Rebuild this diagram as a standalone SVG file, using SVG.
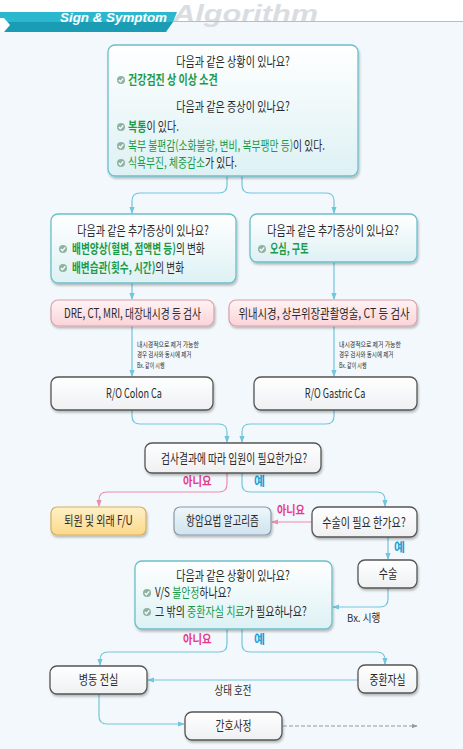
<svg xmlns="http://www.w3.org/2000/svg" width="463" height="749" viewBox="0 0 463 749">
<defs>
<style>
text{font-family:"Noto Sans CJK KR","Liberation Sans",sans-serif;fill:#2a2a2a;font-size:13px}
.c{text-anchor:middle}
.g{fill:#1b9a4a}
.gb{fill:#1b9a4a;font-weight:700}
.sm{font-size:6.9px}
.no{fill:#e8388a;font-weight:700;font-size:12px}
.yes{fill:#1aa0d8;font-weight:700;font-size:12px}
.ln{fill:none;stroke:#72c5dc;stroke-width:1.2}
.pk{fill:none;stroke:#f08ab0;stroke-width:1.2}
.q{fill:url(#gq);stroke:#6cbfcc;stroke-width:1.3}
.w{fill:url(#gw);stroke:#555;stroke-width:1.3}
.p{fill:url(#gp);stroke:#d9a0aa;stroke-width:1.2}
</style>
<linearGradient id="gq" x1="0" y1="0" x2="0" y2="1"><stop offset="0" stop-color="#ffffff"/><stop offset="1" stop-color="#ddf1f4"/></linearGradient>
<linearGradient id="gw" x1="0" y1="0" x2="0" y2="1"><stop offset="0" stop-color="#ffffff"/><stop offset="1" stop-color="#eef0f2"/></linearGradient>
<linearGradient id="gp" x1="0" y1="0" x2="0" y2="1"><stop offset="0" stop-color="#fff3f4"/><stop offset="1" stop-color="#fad3d8"/></linearGradient>
<linearGradient id="gy" x1="0" y1="0" x2="0" y2="1"><stop offset="0" stop-color="#fff0c8"/><stop offset="1" stop-color="#fbd98a"/></linearGradient>
<linearGradient id="gb" x1="0" y1="0" x2="0" y2="1"><stop offset="0" stop-color="#eef6fb"/><stop offset="1" stop-color="#cfe3ef"/></linearGradient>
<filter id="sh" x="-10%" y="-10%" width="120%" height="130%"><feDropShadow dx="1" dy="2" stdDeviation="1.3" flood-color="#000" flood-opacity="0.25"/></filter>
<marker id="ab" viewBox="0 0 8 8" refX="7" refY="4" markerWidth="6" markerHeight="6" orient="auto"><path d="M0,1 L8,4 L0,7 z" fill="#72c5dc"/></marker>
<marker id="ap" viewBox="0 0 8 8" refX="7" refY="4" markerWidth="6" markerHeight="6" orient="auto"><path d="M0,1 L8,4 L0,7 z" fill="#f08ab0"/></marker>
<marker id="ag" viewBox="0 0 8 8" refX="7" refY="4" markerWidth="6" markerHeight="6" orient="auto"><path d="M0,1 L8,4 L0,7 z" fill="#999"/></marker>
<g id="chk"><circle r="4" fill="#8fb3a3"/><path d="M-2.2,0 L-0.6,1.7 L2.3,-1.6" fill="none" stroke="#fff" stroke-width="1.3"/></g>
</defs>
<rect x="0" y="0" width="463" height="749" fill="#ffffff"/>
<rect x="0" y="21" width="463" height="728" fill="#f2f8fb"/>
<g id="header">
<text x="173" y="21.5" textLength="145" lengthAdjust="spacingAndGlyphs" style="font-family:'Liberation Sans',sans-serif;font-size:23.5px;font-weight:700;font-style:italic;fill:#d9dde2">Algorithm</text>
<line x1="172" y1="21.5" x2="463" y2="21.5" stroke="#93ccd8" stroke-width="1.2"/>
<polygon points="0,12 177,12 173,22 0,22" fill="#2bb7ce"/>
<polygon points="0,22 173,22 166,32 0,32" fill="#1a9db4"/>
<polygon points="0,18 4,18 10,25 4,32 0,32" fill="#ffffff"/>
<text x="60" y="22" textLength="107" lengthAdjust="spacingAndGlyphs" style="font-family:'Liberation Sans',sans-serif;font-size:13px;font-weight:700;font-style:italic;fill:#fff">Sign &amp; Symptom</text>
</g>
<g id="connectors">
<path class="ln" d="M227,176 V185 Q227,193 219,193 H140 Q132,193 132,201 V213" marker-end="url(#ab)"/>
<path class="ln" d="M242,176 V185 Q242,193 250,193 H326 Q334,193 334,201 V213" marker-end="url(#ab)"/>
<path class="ln" d="M132,283 V299" marker-end="url(#ab)"/>
<path class="ln" d="M334,262 V299" marker-end="url(#ab)"/>
<path class="ln" d="M132,326 V376" marker-end="url(#ab)"/>
<path class="ln" d="M334,326 V376" marker-end="url(#ab)"/>
<path class="ln" d="M132,410 V416 Q132,424 140,424 H219 Q227,424 227,432 V442" marker-end="url(#ab)"/>
<path class="ln" d="M334,410 V416 Q334,424 326,424 H250 Q242,424 242,432 V442" marker-end="url(#ab)"/>
<path class="pk" d="M227,473 V484 Q227,492 219,492 H107 Q99,492 99,500 V506" marker-end="url(#ap)"/>
<path class="ln" d="M242,473 V484 Q242,492 250,492 H377 Q385,492 385,500 V506" marker-end="url(#ab)"/>
<path class="pk" d="M312,522 H272" marker-end="url(#ap)"/>
<path class="ln" d="M388,537 V559" marker-end="url(#ab)"/>
<path class="ln" d="M388,588 V599 Q388,607 380,607 H333" marker-end="url(#ab)"/>
<path class="ln" d="M227,629 V644 Q227,652 219,652 H108 Q100,652 100,660 V665" marker-end="url(#ab)"/>
<path class="ln" d="M242,629 V644 Q242,652 250,652 H377 Q385,652 385,660 V664" marker-end="url(#ab)"/>
<path class="ln" d="M358,680 H148" marker-end="url(#ab)"/>
<path class="ln" d="M99,694 V716 Q99,724 107,724 H184" marker-end="url(#ab)"/>
<path d="M283,726 H417" fill="none" stroke="#999" stroke-width="1" stroke-dasharray="4,2" marker-end="url(#ag)"/>
<text class="no" transform="translate(183,486) scale(0.86,1)">아니요</text>
<text class="yes" x="254" y="486">예</text>
<text class="no" transform="translate(277,515) scale(0.84,1)">아니요</text>
<text class="yes" x="394" y="552">예</text>
<text transform="translate(347,622) scale(0.87,1)" style="font-size:11px">Bx. 시행</text>
<text class="no" transform="translate(183,644) scale(0.86,1)">아니요</text>
<text class="yes" x="254" y="644">예</text>
<text class="c" transform="translate(233,695) scale(0.79,1)" style="font-size:12px">상태 호전</text>
<text class="sm" transform="translate(137,346.5) scale(0.85,1)">내시경적으로 제거 가능한</text>
<text class="sm" transform="translate(137,357) scale(0.8,1)">경우 검사와 동시에 제거</text>
<text class="sm" transform="translate(137,367.5) scale(0.72,1)">Bx. 같이 시행</text>
<text class="sm" transform="translate(339,346.5) scale(0.85,1)">내시경적으로 제거 가능한</text>
<text class="sm" transform="translate(339,357) scale(0.8,1)">경우 검사와 동시에 제거</text>
<text class="sm" transform="translate(339,367.5) scale(0.72,1)">Bx. 같이 시행</text>
</g>
<g id="n-top">
<rect class="q" x="108" y="45" width="250" height="131" rx="7" filter="url(#sh)"/>
<text class="c" transform="translate(233,66) scale(0.775,1)">다음과 같은 상황이 있나요?</text>
<use href="#chk" x="121" y="80"/>
<text class="gb" transform="translate(128,84) scale(0.77,1)">건강검진 상 이상 소견</text>
<text class="c" transform="translate(233,111) scale(0.775,1)">다음과 같은 증상이 있나요?</text>
<use href="#chk" x="121" y="127"/>
<text transform="translate(128,131) scale(0.77,1)"><tspan class="gb">복통</tspan>이 있다.</text>
<use href="#chk" x="121" y="146"/>
<text transform="translate(128,150) scale(0.755,1)"><tspan class="g">복부 불편감(소화불량, 변비, 복부팽만 등)</tspan>이 있다.</text>
<use href="#chk" x="121" y="163"/>
<text transform="translate(128,167) scale(0.755,1)"><tspan class="g">식욕부진, 체중감소</tspan>가 있다.</text>
</g>
<g id="n-left">
<rect class="q" x="51" y="214" width="185" height="69" rx="7" filter="url(#sh)"/>
<text class="c" transform="translate(143,235) scale(0.773,1)">다음과 같은 추가증상이 있나요?</text>
<use href="#chk" x="63" y="249"/>
<text transform="translate(72,253) scale(0.745,1)"><tspan class="gb">배변양상(혈변, 점액변 등)</tspan>의 변화</text>
<use href="#chk" x="63" y="268"/>
<text transform="translate(72,272) scale(0.74,1)"><tspan class="gb">배변습관(횟수, 시간)</tspan>의 변화</text>
</g>
<g id="n-right">
<rect class="q" x="250" y="214" width="167" height="48" rx="7" filter="url(#sh)"/>
<text class="c" transform="translate(333,235) scale(0.773,1)">다음과 같은 추가증상이 있나요?</text>
<use href="#chk" x="262" y="249"/>
<text class="gb" transform="translate(270,253) scale(0.7,1)">오심, 구토</text>
</g>
<g id="n-exam1">
<rect class="p" x="51" y="300" width="163" height="26" rx="7" filter="url(#sh)"/>
<text class="c" transform="translate(132.5,318) scale(0.75,1)">DRE, CT, MRI, 대장내시경 등 검사</text>
</g>
<g id="n-exam2">
<rect class="p" x="229" y="300" width="188" height="26" rx="7" filter="url(#sh)"/>
<text class="c" transform="translate(324,318) scale(0.8,1)">위내시경, 상부위장관촬영술, CT 등 검사</text>
</g>
<g id="n-colon">
<rect class="w" x="51" y="377" width="162" height="33" rx="7" filter="url(#sh)"/>
<text class="c" transform="translate(134,398) scale(0.7,1)">R/O Colon Ca</text>
</g>
<g id="n-gastric">
<rect class="w" x="254" y="377" width="163" height="33" rx="7" filter="url(#sh)"/>
<text class="c" transform="translate(335,398) scale(0.7,1)">R/O Gastric Ca</text>
</g>
<g id="n-admit">
<rect class="w" x="145" y="443" width="176" height="30" rx="7" filter="url(#sh)"/>
<text class="c" transform="translate(234,463) scale(0.752,1)">검사결과에 따라 입원이 필요한가요?</text>
</g>
<g id="n-fu">
<rect x="51" y="507" width="95" height="28" rx="6" fill="url(#gy)" stroke="#d6b060" stroke-width="1.2" filter="url(#sh)"/>
<text class="c" transform="translate(98.5,525) scale(0.77,1)">퇴원 및 외래 F/U</text>
</g>
<g id="n-chemo">
<rect x="174" y="507" width="97" height="28" rx="6" fill="url(#gb)" stroke="#8c9aa6" stroke-width="1.2" filter="url(#sh)"/>
<text class="c" transform="translate(222.5,525) scale(0.74,1)">항암요법 알고리즘</text>
</g>
<g id="n-surgq">
<rect class="w" x="312" y="507" width="105" height="30" rx="7" filter="url(#sh)"/>
<text class="c" transform="translate(364,527) scale(0.775,1)">수술이 필요 한가요?</text>
</g>
<g id="n-surg">
<rect class="w" x="358" y="560" width="59" height="28" rx="7" filter="url(#sh)"/>
<text class="c" transform="translate(388,578) scale(0.775,1)">수술</text>
</g>
<g id="n-q2">
<rect class="q" x="135" y="561" width="197" height="68" rx="7" filter="url(#sh)"/>
<text class="c" transform="translate(233,580) scale(0.775,1)">다음과 같은 상황이 있나요?</text>
<use href="#chk" x="147" y="593"/>
<text transform="translate(155,597) scale(0.76,1)">V/S <tspan class="g">불안정</tspan>하나요?</text>
<use href="#chk" x="147" y="612"/>
<text transform="translate(155,616) scale(0.77,1)">그 밖의 <tspan class="g">중환자실 치료</tspan>가 필요하나요?</text>
</g>
<g id="n-ward">
<rect class="w" x="50" y="666" width="97" height="28" rx="7" filter="url(#sh)"/>
<text class="c" transform="translate(98.5,684) scale(0.78,1)">병동 전실</text>
</g>
<g id="n-icu">
<rect class="w" x="358" y="665" width="59" height="28" rx="7" filter="url(#sh)"/>
<text class="c" transform="translate(387.5,684) scale(0.75,1)">중환자실</text>
</g>
<g id="n-nursing">
<rect class="w" x="185" y="712" width="97" height="28" rx="7" filter="url(#sh)"/>
<text class="c" transform="translate(233.5,730) scale(0.75,1)">간호사정</text>
</g>
</svg>
